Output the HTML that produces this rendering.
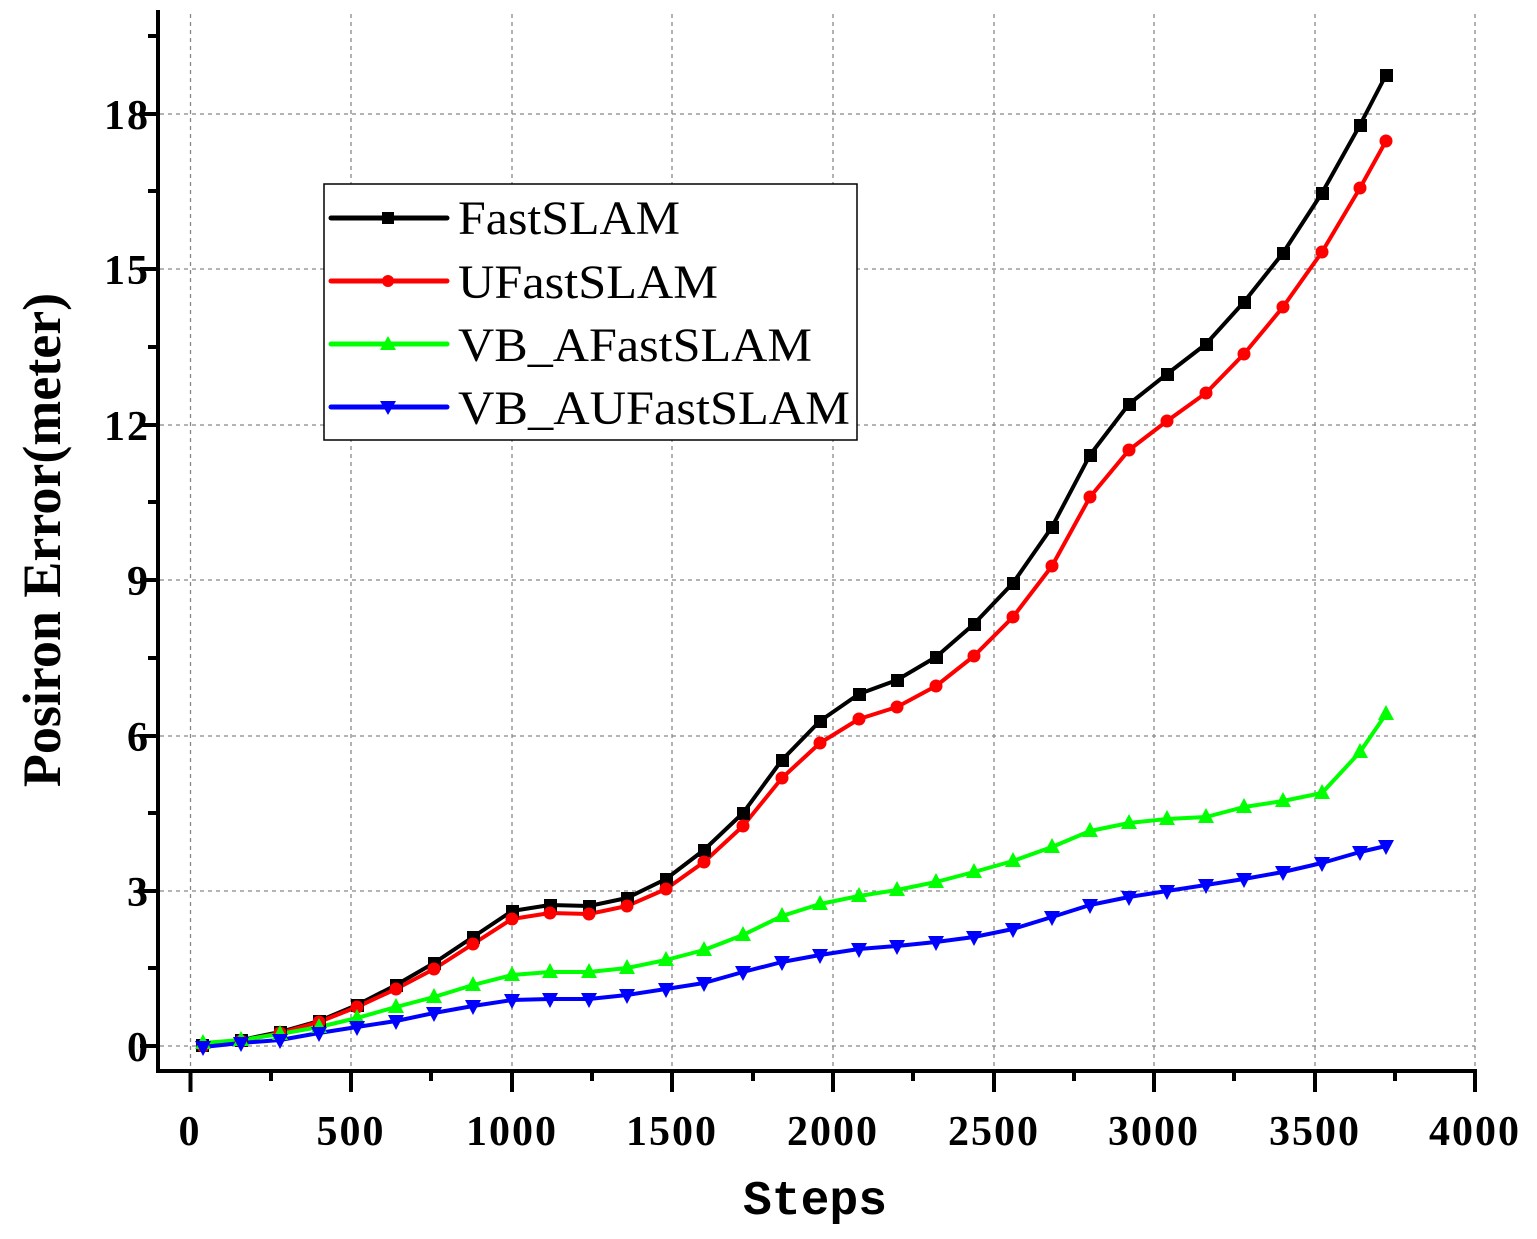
<!DOCTYPE html>
<html><head><meta charset="utf-8"><style>body{margin:0;background:#fff}svg{display:block}</style></head>
<body>
<svg width="1537" height="1239" viewBox="0 0 1537 1239" xmlns="http://www.w3.org/2000/svg" font-family="Liberation Serif, serif">
<g stroke="#888" stroke-width="1.3" stroke-dasharray="4,4">
<line x1="190.5" y1="14" x2="190.5" y2="1070"/><line x1="351" y1="14" x2="351" y2="1070"/><line x1="512" y1="14" x2="512" y2="1070"/><line x1="672" y1="14" x2="672" y2="1070"/><line x1="833" y1="14" x2="833" y2="1070"/><line x1="994" y1="14" x2="994" y2="1070"/><line x1="1154" y1="14" x2="1154" y2="1070"/><line x1="1315" y1="14" x2="1315" y2="1070"/><line x1="1475" y1="14" x2="1475" y2="1070"/>
<line x1="160" y1="1046" x2="1475" y2="1046"/><line x1="160" y1="891" x2="1475" y2="891"/><line x1="160" y1="736" x2="1475" y2="736"/><line x1="160" y1="580" x2="1475" y2="580"/><line x1="160" y1="425" x2="1475" y2="425"/><line x1="160" y1="269" x2="1475" y2="269"/><line x1="160" y1="114" x2="1475" y2="114"/>
</g>
<g stroke="#000" stroke-width="4">
<line x1="158" y1="10" x2="158" y2="1073"/><line x1="156" y1="1071" x2="1477" y2="1071"/>
<line x1="140" y1="1046" x2="158" y2="1046"/><line x1="140" y1="891" x2="158" y2="891"/><line x1="140" y1="736" x2="158" y2="736"/><line x1="140" y1="580" x2="158" y2="580"/><line x1="140" y1="425" x2="158" y2="425"/><line x1="140" y1="269" x2="158" y2="269"/><line x1="140" y1="114" x2="158" y2="114"/>
<line x1="148" y1="968" x2="158" y2="968"/><line x1="148" y1="813" x2="158" y2="813"/><line x1="148" y1="658" x2="158" y2="658"/><line x1="148" y1="502" x2="158" y2="502"/><line x1="148" y1="347" x2="158" y2="347"/><line x1="148" y1="191" x2="158" y2="191"/><line x1="148" y1="36" x2="158" y2="36"/>
<line x1="190.5" y1="1071" x2="190.5" y2="1092"/><line x1="351" y1="1071" x2="351" y2="1092"/><line x1="512" y1="1071" x2="512" y2="1092"/><line x1="672" y1="1071" x2="672" y2="1092"/><line x1="833" y1="1071" x2="833" y2="1092"/><line x1="994" y1="1071" x2="994" y2="1092"/><line x1="1154" y1="1071" x2="1154" y2="1092"/><line x1="1315" y1="1071" x2="1315" y2="1092"/><line x1="1475" y1="1071" x2="1475" y2="1092"/>
<line x1="271" y1="1071" x2="271" y2="1081"/><line x1="431" y1="1071" x2="431" y2="1081"/><line x1="592" y1="1071" x2="592" y2="1081"/><line x1="753" y1="1071" x2="753" y2="1081"/><line x1="913" y1="1071" x2="913" y2="1081"/><line x1="1074" y1="1071" x2="1074" y2="1081"/><line x1="1234" y1="1071" x2="1234" y2="1081"/><line x1="1395" y1="1071" x2="1395" y2="1081"/>
</g>
<g font-size="42" text-anchor="middle" letter-spacing="2" font-weight="bold">
<text x="190" y="1145">0</text><text x="351" y="1145">500</text><text x="512" y="1145">1000</text><text x="672" y="1145">1500</text><text x="833" y="1145">2000</text><text x="994" y="1145">2500</text><text x="1154" y="1145">3000</text><text x="1315" y="1145">3500</text><text x="1475" y="1145">4000</text>
</g>
<g font-size="42" text-anchor="end" letter-spacing="2" font-weight="bold">
<text x="150" y="1061">0</text><text x="150" y="906">3</text><text x="150" y="751">6</text><text x="150" y="595">9</text><text x="150" y="440">12</text><text x="150" y="284">15</text><text x="150" y="129">18</text>
</g>
<text x="815" y="1214" font-size="48" font-weight="bold" text-anchor="middle" font-family="Liberation Mono, monospace">Steps</text>
<text transform="translate(60,540) rotate(-90)" font-size="54" font-weight="bold" text-anchor="middle">Posiron Error(meter)</text>
<g fill="none" stroke-width="4" stroke-linejoin="round">
<polyline stroke="#000" points="203,1046 241,1040 280,1032 319,1021 357,1005 396,985 434,963 473,937 512,911 550,905 589,906 627,898 666,879 704,850 743,813 782,760 820,721 859,694 897,680 936,657 974,624 1013,583 1052,527 1090,455 1129,404 1167,374 1206,344 1244,302 1283,253 1322,193 1360,125 1386,75"/>
<polyline stroke="#f00" points="203,1046 241,1041 280,1033 319,1022 357,1007 396,989 434,969 473,944 512,919 550,913 589,914 627,906 666,889 704,862 743,826 782,778 820,743 859,719 897,707 936,686 974,656 1013,617 1052,566 1090,497 1129,450 1167,421 1206,393 1244,354 1283,307 1322,252 1360,188 1386,141"/>
<polyline stroke="#0f0" points="203,1043 241,1040 280,1034 319,1027 357,1018 396,1007 434,997 473,985 512,975 550,972 589,972 627,968 666,960 704,950 743,935 782,916 820,904 859,896 897,890 936,882 974,872 1013,861 1052,847 1090,831 1129,823 1167,819 1206,817 1244,807 1283,801 1322,793 1360,752 1386,714"/>
<polyline stroke="#00f" points="203,1047 241,1043 280,1040 319,1033 357,1027 396,1021 434,1013 473,1006 512,1000 550,999 589,999 627,995 666,989 704,983 743,972 782,962 820,955 859,949 897,946 936,942 974,937 1013,929 1052,917 1090,905 1129,897 1167,891 1206,885 1244,879 1283,872 1322,863 1360,852 1386,846"/>
</g>
<g fill="#000">
<rect x="196" y="1039" width="13" height="13"/><rect x="235" y="1034" width="13" height="13"/><rect x="274" y="1026" width="13" height="13"/><rect x="313" y="1015" width="13" height="13"/><rect x="351" y="999" width="13" height="13"/><rect x="390" y="979" width="13" height="13"/><rect x="428" y="957" width="13" height="13"/><rect x="467" y="931" width="13" height="13"/><rect x="506" y="905" width="13" height="13"/><rect x="544" y="899" width="13" height="13"/><rect x="583" y="900" width="13" height="13"/><rect x="621" y="892" width="13" height="13"/><rect x="660" y="873" width="13" height="13"/><rect x="698" y="844" width="13" height="13"/><rect x="737" y="807" width="13" height="13"/><rect x="776" y="754" width="13" height="13"/><rect x="814" y="715" width="13" height="13"/><rect x="853" y="688" width="13" height="13"/><rect x="891" y="674" width="13" height="13"/><rect x="930" y="651" width="13" height="13"/><rect x="968" y="618" width="13" height="13"/><rect x="1007" y="577" width="13" height="13"/><rect x="1046" y="521" width="13" height="13"/><rect x="1084" y="449" width="13" height="13"/><rect x="1123" y="398" width="13" height="13"/><rect x="1161" y="368" width="13" height="13"/><rect x="1200" y="338" width="13" height="13"/><rect x="1238" y="296" width="13" height="13"/><rect x="1277" y="247" width="13" height="13"/><rect x="1316" y="187" width="13" height="13"/><rect x="1354" y="119" width="13" height="13"/><rect x="1380" y="69" width="13" height="13"/>
</g>
<g fill="#f00">
<circle cx="203" cy="1046" r="6.5"/><circle cx="241" cy="1041" r="6.5"/><circle cx="280" cy="1033" r="6.5"/><circle cx="319" cy="1022" r="6.5"/><circle cx="357" cy="1007" r="6.5"/><circle cx="396" cy="989" r="6.5"/><circle cx="434" cy="969" r="6.5"/><circle cx="473" cy="944" r="6.5"/><circle cx="512" cy="919" r="6.5"/><circle cx="550" cy="913" r="6.5"/><circle cx="589" cy="914" r="6.5"/><circle cx="627" cy="906" r="6.5"/><circle cx="666" cy="889" r="6.5"/><circle cx="704" cy="862" r="6.5"/><circle cx="743" cy="826" r="6.5"/><circle cx="782" cy="778" r="6.5"/><circle cx="820" cy="743" r="6.5"/><circle cx="859" cy="719" r="6.5"/><circle cx="897" cy="707" r="6.5"/><circle cx="936" cy="686" r="6.5"/><circle cx="974" cy="656" r="6.5"/><circle cx="1013" cy="617" r="6.5"/><circle cx="1052" cy="566" r="6.5"/><circle cx="1090" cy="497" r="6.5"/><circle cx="1129" cy="450" r="6.5"/><circle cx="1167" cy="421" r="6.5"/><circle cx="1206" cy="393" r="6.5"/><circle cx="1244" cy="354" r="6.5"/><circle cx="1283" cy="307" r="6.5"/><circle cx="1322" cy="252" r="6.5"/><circle cx="1360" cy="188" r="6.5"/><circle cx="1386" cy="141" r="6.5"/>
</g>
<script>
(function(){
var ns="http://www.w3.org/2000/svg",svg=document.querySelector("svg");
var g=[[203,1043],[241,1040],[280,1034],[319,1027],[357,1018],[396,1007],[434,997],[473,985],[512,975],[550,972],[589,972],[627,968],[666,960],[704,950],[743,935],[782,916],[820,904],[859,896],[897,890],[936,882],[974,872],[1013,861],[1052,847],[1090,831],[1129,823],[1167,819],[1206,817],[1244,807],[1283,801],[1322,793],[1360,752],[1386,714]];
var b=[[203,1047],[241,1043],[280,1040],[319,1033],[357,1027],[396,1021],[434,1013],[473,1006],[512,1000],[550,999],[589,999],[627,995],[666,989],[704,983],[743,972],[782,962],[820,955],[859,949],[897,946],[936,942],[974,937],[1013,929],[1052,917],[1090,905],[1129,897],[1167,891],[1206,885],[1244,879],[1283,872],[1322,863],[1360,852],[1386,846]];
function add(pts,col,up){pts.forEach(function(p){var x=p[0],y=p[1],e=document.createElementNS(ns,"polygon");
var s=up?(x-8)+","+(y+6)+" "+(x+8)+","+(y+6)+" "+x+","+(y-9):(x-8)+","+(y-6)+" "+(x+8)+","+(y-6)+" "+x+","+(y+9);
e.setAttribute("points",s);e.setAttribute("fill",col);svg.insertBefore(e,document.getElementById("leg"));});}
add(g,"#0f0",true);add(b,"#00f",false);
})();
</script>
<rect id="leg" x="324" y="184" width="533" height="256" fill="#fff" stroke="#000" stroke-width="1.5"/>
<g stroke-width="5" stroke-linecap="round">
<line x1="331" y1="218" x2="447" y2="218" stroke="#000"/><rect x="382" y="212" width="12" height="12" fill="#000" stroke="none"/>
<line x1="331" y1="281" x2="447" y2="281" stroke="#f00"/><circle cx="388" cy="281" r="6" fill="#f00" stroke="none"/>
<line x1="331" y1="344" x2="447" y2="344" stroke="#0f0"/><polygon points="380,350 396,350 388,336" fill="#0f0" stroke="none"/>
<line x1="331" y1="407" x2="447" y2="407" stroke="#00f"/><polygon points="380,401 396,401 388,415" fill="#00f" stroke="none"/>
</g>
<g font-size="48">
<text x="458" y="234" textLength="222" lengthAdjust="spacingAndGlyphs">FastSLAM</text><text x="458" y="298" textLength="260" lengthAdjust="spacingAndGlyphs">UFastSLAM</text><text x="458" y="361" textLength="354" lengthAdjust="spacingAndGlyphs">VB_AFastSLAM</text><text x="458" y="424" textLength="392" lengthAdjust="spacingAndGlyphs">VB_AUFastSLAM</text>
</g>
</svg>
</body></html>
